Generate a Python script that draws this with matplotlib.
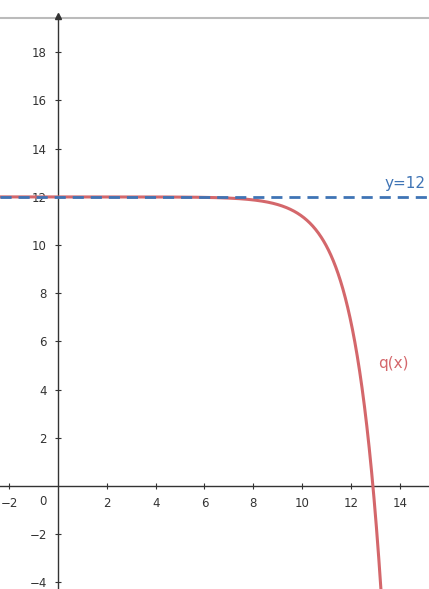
import numpy as np
import matplotlib.pyplot as plt

# q(x) = 12 - exp(k*(x - x0)), parameters
asymptote = 12
k = 0.93
x0 = 10.23
x_ticks = [-2, 2, 4, 6, 8, 10, 12, 14]
y_ticks = [-4, -2, 2, 4, 6, 8, 10, 12, 14, 16, 18]

fig = plt.figure(figsize=(4.29, 5.89), dpi=100)
ax = fig.add_axes([0, 0, 1, 1])
ax.set_xlim(-2.38, 15.2)
ax.set_ylim(-4.27, 20.17)

x = np.linspace(-2.38, 13.3, 800)
q = asymptote - np.exp(k * (x - x0))
ax.plot(x, q, color='#d4676b', lw=2.2, zorder=3)
ax.axhline(asymptote, color='#3f74b5', lw=2, ls=(0, (4, 2.5)), zorder=4)

ax.text(14.2, 12.25, 'y=12', color='#3f74b5', fontsize=11, ha='center', va='bottom')
ax.text(13.1, 5.1, 'q(x)', color='#d4676b', fontsize=11, va='center')

for s in ['top', 'right']:
    ax.spines[s].set_visible(False)
ax.spines['left'].set_position(('data', 0))
ax.spines['bottom'].set_position(('data', 0))
ax.spines['left'].set_bounds(-4.27, 19.5)
for s in ['left', 'bottom']:
    ax.spines[s].set_color('#333333')
    ax.spines[s].set_linewidth(1)
ax.plot(0, 19.5, marker='^', color='#333333', ms=5, zorder=5)
ax.axhline(19.43, xmin=0, xmax=1, color='#bbbbbb', lw=1.5)

ax.set_xticks(x_ticks)
ax.set_yticks(y_ticks)
ax.set_xticklabels(['\u22122' if v == -2 else str(v) for v in x_ticks])
ax.set_yticklabels([('\u2212' + str(-v)) if v < 0 else str(v) for v in y_ticks])
ax.tick_params(axis='both', direction='in', length=3, labelsize=8.5, colors='#333333', pad=4)
ax.tick_params(axis='x', direction='inout', length=4, pad=6)
ax.tick_params(axis='y', direction='inout', length=4, pad=6)
ax.text(-0.45, -0.35, '0', fontsize=8.5, color='#333333', ha='right', va='top')

fig.savefig('out.png', dpi=100)
